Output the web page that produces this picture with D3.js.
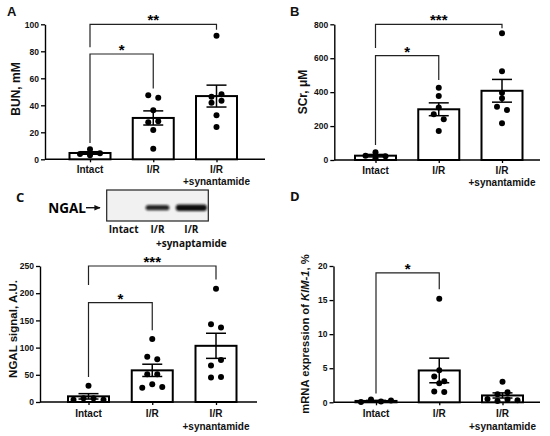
<!DOCTYPE html>
<html>
<head>
<meta charset="utf-8">
<script src="https://cdn.jsdelivr.net/npm/d3@7"></script>
<style>
  body { margin: 0; background: #fff; }
  svg { display: block; font-family: "Liberation Sans", Arial, sans-serif; }
</style>
</head>
<body>
<div id="fig"></div>
<script>
// groups shared by all four panels
var groups = ["Intact", "I/R", "I/R+synantamide"]
var groupLabels = [["Intact"], ["I/R"], ["I/R", "+synantamide"]]

// A: BUN, mM (one value per animal)
var bunIntact = [3.9, 7.4, 4.4, 3.0]
var bunIR = [47.4, 45.6, 36.3, 27.4, 28.1, 21.7, 7.9]
var bunSyn = [46.4, 48.1, 41.9, 43.4, 32.6, 23.9, 91.5]
var bunTicks = [0, 20, 40, 60, 80, 100]
var bunSig = [[0, 2, 100, 83, 96, "**"], [0, 1, 78, 12, 52.5, "*"]]

// B: SCr, uM
var scrIntact = [10, 25, 45, 22]
var scrIR = [426, 377, 310, 270, 240, 171]
var scrSyn = [747, 523, 397, 364, 314, 295, 216]
var scrTicks = [0, 200, 400, 600, 800]
var scrSig = [[0, 2, 800, 660, 776, "***"], [0, 1, 615, 88, 472, "*"]]

// C: NGAL signal, A.U.
var ngalIntact = [4, 7, 30, 7, 4]
var ngalIR = [116, 83, 78.5, 51, 51, 26, 32.5, 27.5]
var ngalSyn = [208, 143, 137, 67, 77, 45, 46]
var ngalTicks = [0, 50, 100, 150, 200, 250]
var ngalSig = [[0, 2, 250, 215, 225, "***"], [0, 1, 182.5, 46, 132, "*"]]

// western blot lanes (relative band intensity)
var blotLanes = [["Intact"], ["I/R"], ["I/R", "+synaptamide"]]
var blotSignal = [0, 0.65, 1]

// D: mRNA expression of KIM-1, %
var kimIntact = [0.05, 0.4, 0.1, 0.25]
var kimIR = [15.2, 4.7, 3.8, 3.1, 2.8, 1.6, 1.5]
var kimSyn = [3.0, 1.17, 1.47, 0.5, 0.2, 0.4, 0.3]
var kimTicks = [0, 5, 10, 15, 20]
var kimSig = [[0, 1, 19, 1.3, 16.6, "*"]]

var svg = d3.select("#fig").append("svg")
  .attr("width", 550)
  .attr("height", 436)

var defs = svg.append("defs")
defs.append("filter").attr("id", "blur")
  .attr("x", "-50%").attr("y", "-100%").attr("width", "200%").attr("height", "300%")
  .append("feGaussianBlur").attr("stdDeviation", 1.1)
defs.append("marker").attr("id", "arrow")
  .attr("viewBox", "0 0 10 10").attr("refX", 8).attr("refY", 5)
  .attr("markerWidth", 5).attr("markerHeight", 5).attr("orient", "auto")
  .append("path").attr("d", "M0,1L9,5L0,9Z").attr("fill", "#111")

// place dots: values close in pixels get spread sideways (GraphPad-like scatter)
function spread(vals, y) {
  var idx = d3.range(vals.length).sort(function(a, b){ return vals[b] - vals[a] })
  var clusters = [], cur = null
  idx.forEach(function(i){
    if (cur && y(vals[i]) - y(vals[cur[0]]) <= 5.5) cur.push(i)
    else { cur = [i]; clusters.push(cur) }
  })
  var off = []
  clusters.forEach(function(c){
    c.sort(d3.ascending)
    c.forEach(function(i, k){ off[i] = (k - (c.length - 1) / 2) * 10 })
  })
  return vals.map(function(v, i){ return {v: v, dx: off[i]} })
}

function panel(cfg) {
  var g = svg.append("g")
  var x = d3.scalePoint().domain(groups).range([cfg.c0, cfg.c1])
  var y = d3.scaleLinear().domain([0, cfg.max]).range([cfg.y0, cfg.y1])
  var bw = 41

  var stats = cfg.data.map(function(vals, i){
    var m = d3.mean(vals)
    var sem = d3.deviation(vals) / Math.sqrt(vals.length)
    return {g: groups[i], mean: m, sem: sem, pts: spread(vals, y)}
  })

  // axes
  var ya = g.append("g").attr("transform", "translate(" + cfg.ax + ",0)")
    .call(d3.axisLeft(y).tickValues(cfg.ticks).tickSize(4).tickPadding(2).tickSizeOuter(0))
  ya.select(".domain").attr("stroke-width", 1.4)
  ya.selectAll(".tick line").attr("stroke-width", 1.3)
  ya.selectAll("text").attr("font-size", 8.5).attr("font-weight", "bold")
    .attr("font-family", "Liberation Sans, Arial, sans-serif").attr("fill", "#111")

  var xa = g.append("g").attr("transform", "translate(0," + cfg.y0 + ")")
    .call(d3.axisBottom(x).tickSize(3).tickFormat(""))
  xa.select(".domain").remove()
  xa.selectAll(".tick line").attr("stroke-width", 1.3)
  g.append("line")
    .attr("x1", cfg.ax).attr("x2", cfg.xEnd)
    .attr("y1", cfg.y0).attr("y2", cfg.y0)
    .attr("stroke", "#000").attr("stroke-width", 1.4)

  groupLabels.forEach(function(lines, i){
    var t = g.append("text")
      .attr("x", x(groups[i])).attr("y", cfg.y0 + cfg.lab)
      .attr("text-anchor", "middle").attr("font-size", 10).attr("font-weight", "bold").attr("fill", "#111")
    lines.forEach(function(s, k){
      t.append("tspan").attr("x", x(groups[i])).attr("dy", k ? 12.5 : 0).text(s)
    })
  })

  // bars
  g.selectAll(".bar").data(stats).enter().append("rect")
    .attr("x", function(d){ return x(d.g) - bw / 2 })
    .attr("y", function(d){ return y(d.mean) })
    .attr("width", bw)
    .attr("height", function(d){ return y(0) - y(d.mean) })
    .attr("fill", "#fff").attr("stroke", "#000").attr("stroke-width", 2)

  // points
  stats.forEach(function(s){
    g.selectAll(null).data(s.pts).enter().append("circle")
      .attr("cx", function(d){ return x(s.g) + d.dx })
      .attr("cy", function(d){ return y(d.v) })
      .attr("r", 3).attr("fill", "#000")
  })

  // mean +/- SEM
  var eb = g.selectAll(".eb").data(stats).enter().append("g")
    .attr("stroke", "#000").attr("stroke-width", 1.5)
  eb.append("line")
    .attr("x1", function(d){ return x(d.g) }).attr("x2", function(d){ return x(d.g) })
    .attr("y1", function(d){ return y(d.mean - d.sem) }).attr("y2", function(d){ return y(d.mean + d.sem) })
  eb.append("line")
    .attr("x1", function(d){ return x(d.g) - 10 }).attr("x2", function(d){ return x(d.g) + 10 })
    .attr("y1", function(d){ return y(d.mean + d.sem) }).attr("y2", function(d){ return y(d.mean + d.sem) })
  eb.append("line")
    .attr("x1", function(d){ return x(d.g) - 10 }).attr("x2", function(d){ return x(d.g) + 10 })
    .attr("y1", function(d){ return y(Math.max(0, d.mean - d.sem)) })
    .attr("y2", function(d){ return y(Math.max(0, d.mean - d.sem)) })

  // significance brackets
  cfg.sig.forEach(function(s){
    var xa1 = x(groups[s[0]]), xa2 = x(groups[s[1]])
    g.append("path")
      .attr("d", "M" + xa1 + "," + y(s[3]) + "V" + y(s[2]) + "H" + xa2 + "V" + y(s[4]))
      .attr("fill", "none").attr("stroke", "#222").attr("stroke-width", 1.2)
    g.append("text")
      .attr("x", (xa1 + xa2) / 2).attr("y", y(s[2]) + 1)
      .attr("text-anchor", "middle").attr("font-size", 15).attr("font-weight", "bold")
      .text(s[5])
  })

  // y label
  var yl = g.append("text")
    .attr("transform", "translate(" + cfg.lx + "," + cfg.ly + ") rotate(-90)")
    .attr("text-anchor", "middle").attr("dy", "0.35em")
    .attr("font-size", cfg.lsize).attr("font-weight", "bold").attr("fill", "#111")
  cfg.ylabel.forEach(function(p){
    yl.append("tspan").attr("font-style", p[1] ? "italic" : null).text(p[0])
  })

  svg.append("text").attr("x", cfg.px).attr("y", cfg.py)
    .attr("font-size", 13).attr("font-weight", "bold").attr("fill", "#111")
    .attr("font-family", cfg.pfont || "Liberation Sans, Arial, sans-serif")
    .text(cfg.letter)
}

panel({letter: "A", px: 7, py: 16, data: [bunIntact, bunIR, bunSyn], ticks: bunTicks, max: 100,
  sig: bunSig, ax: 45, xEnd: 265, c0: 90, c1: 216.5, y0: 159.3, y1: 24.3, lab: 13.5,
  ylabel: [["BUN, mM"]], lx: 16, ly: 89, lsize: 12})
panel({letter: "B", px: 290, py: 16, data: [scrIntact, scrIR, scrSyn], ticks: scrTicks, max: 800,
  sig: scrSig, ax: 334.3, xEnd: 540, c0: 375.5, c1: 502, y0: 160, y1: 24.3, lab: 13.5,
  ylabel: [["SCr, \u03bcM"]], lx: 303, ly: 92, lsize: 12})
panel({letter: "C", px: 16, py: 202, pfont: "Open Sans, sans-serif", data: [ngalIntact, ngalIR, ngalSyn],
  ticks: ngalTicks, max: 250, sig: ngalSig, ax: 40, xEnd: 257, c0: 88.5, c1: 216, y0: 402, y1: 266, lab: 15,
  ylabel: [["NGAL signal, A.U."]], lx: 13, ly: 329, lsize: 11.5})
panel({letter: "D", px: 290, py: 201, pfont: "Open Sans, sans-serif", data: [kimIntact, kimIR, kimSyn],
  ticks: kimTicks, max: 20, sig: kimSig, ax: 333.5, xEnd: 540, c0: 376, c1: 502.5, y0: 402.3, y1: 266, lab: 15,
  ylabel: [["mRNA expression of "], ["KIM-1", true], [", %"]], lx: 305, ly: 334, lsize: 11.2})

// western blot inset for C
var lane = d3.scaleBand().domain(groups).range([106.7, 208.3])
var blot = svg.append("g")
blot.append("rect")
  .attr("x", lane.range()[0]).attr("y", 190)
  .attr("width", lane.range()[1] - lane.range()[0]).attr("height", 31)
  .attr("fill", "#f1f1f1").attr("stroke", "#222").attr("stroke-width", 1.2)
var bands = blotSignal.map(function(s, i){ return {g: groups[i], s: s} })
  .filter(function(d){ return d.s > 0 })
blot.selectAll(".band").data(bands).enter().append("rect")
  .attr("x", function(d){ var w = lane.bandwidth() * (0.3 + 0.62 * d.s); return lane(d.g) + lane.bandwidth() / 2 - w / 2 })
  .attr("width", function(d){ return lane.bandwidth() * (0.3 + 0.62 * d.s) })
  .attr("y", function(d){ return 207.7 - (3 + 3.5 * d.s) / 2 })
  .attr("height", function(d){ return 3 + 3.5 * d.s })
  .attr("rx", 3)
  .attr("fill", "#111").attr("opacity", function(d){ return 0.7 + 0.3 * d.s })
  .attr("filter", "url(#blur)")
blotLanes.forEach(function(lines, i){
  var cx = lane(groups[i]) + lane.bandwidth() / 2
  var t = blot.append("text").attr("x", cx).attr("y", 233)
    .attr("text-anchor", "middle").attr("font-size", 10).attr("font-weight", "bold")
    .attr("font-family", "Open Sans, sans-serif").attr("fill", "#111")
  lines.forEach(function(s, k){
    t.append("tspan").attr("x", cx).attr("dy", k ? 13.5 : 0).text(s)
  })
})
blot.append("text").attr("x", 86).attr("y", 212.5).attr("text-anchor", "end")
  .attr("font-size", 13.5).attr("font-weight", "bold").attr("font-family", "Open Sans, sans-serif")
  .text("NGAL")
blot.append("line").attr("x1", 86).attr("x2", 100).attr("y1", 207.7).attr("y2", 207.7)
  .attr("stroke", "#111").attr("stroke-width", 1.4).attr("marker-end", "url(#arrow)")
</script>
</body>
</html>
